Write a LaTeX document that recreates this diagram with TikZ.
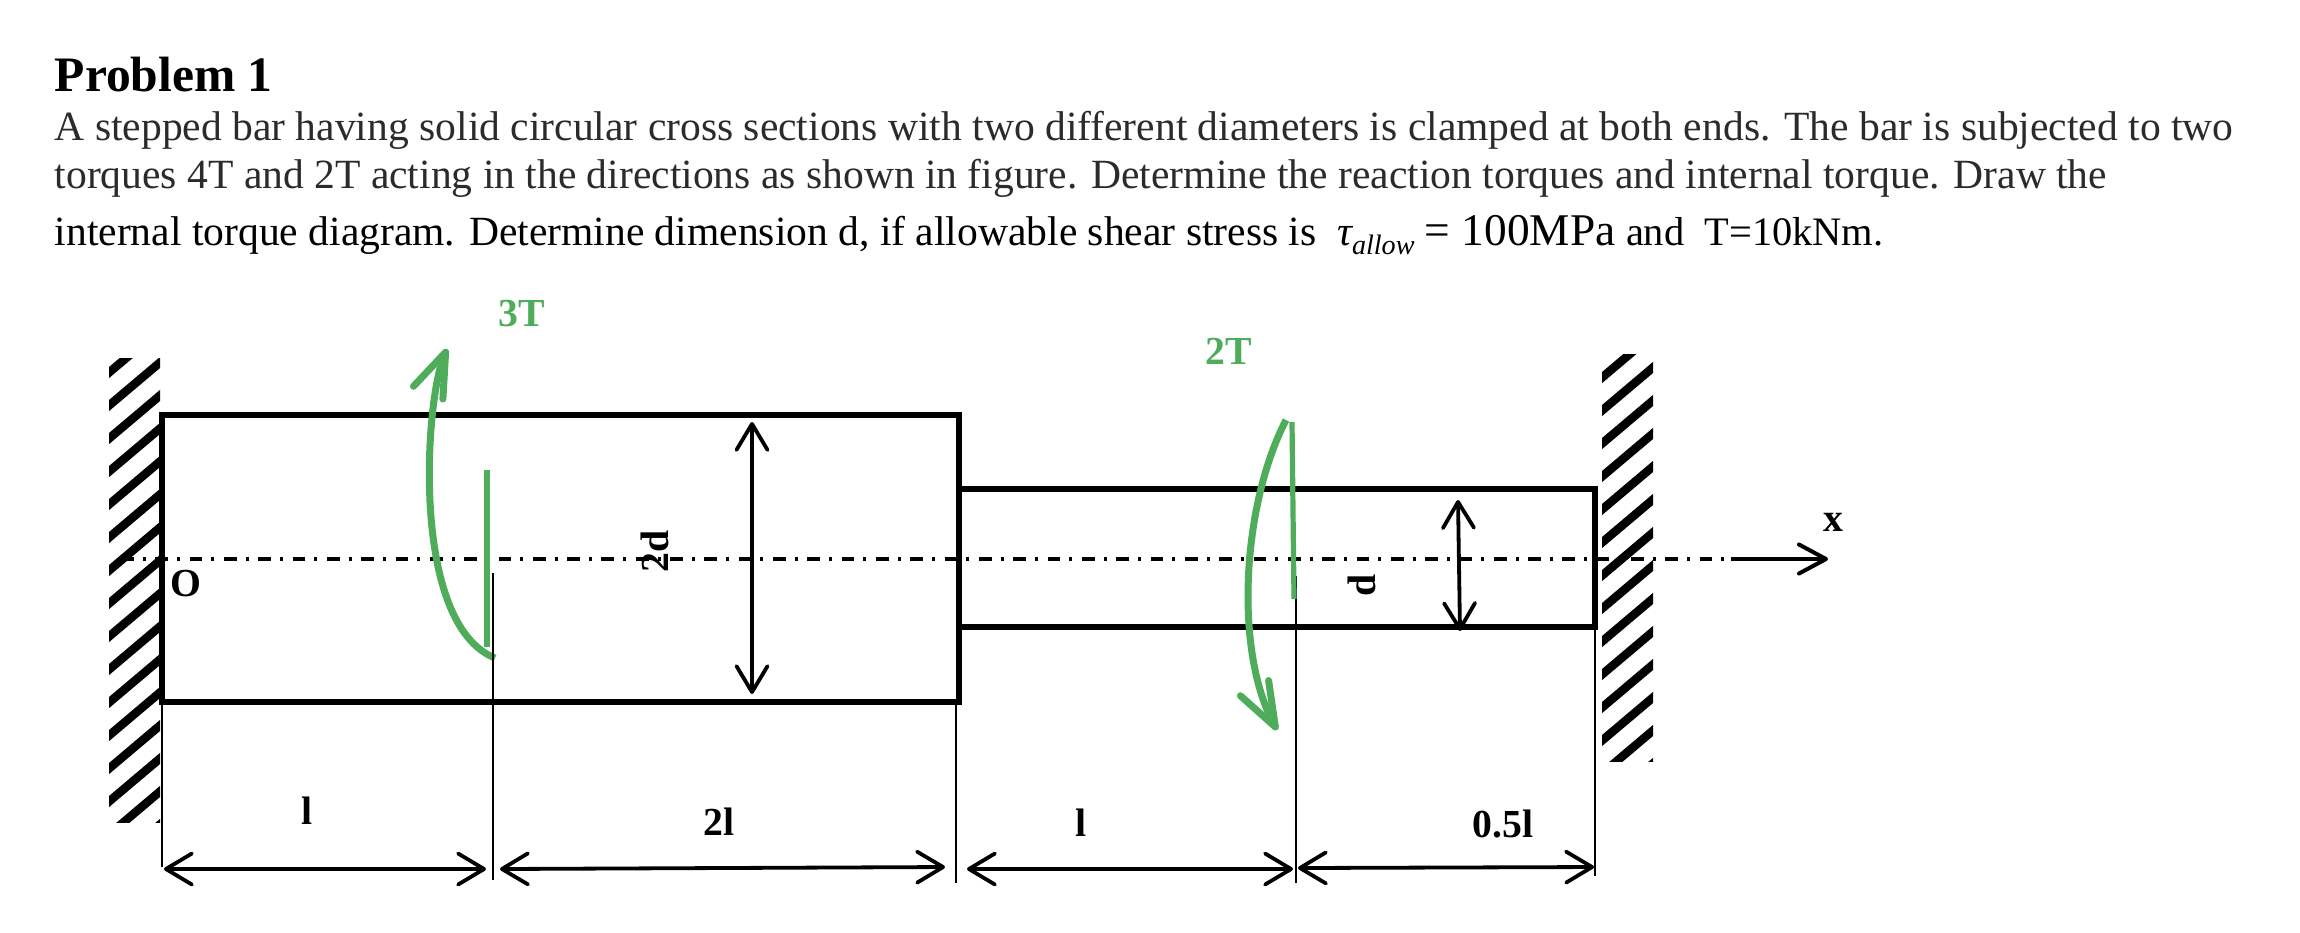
\documentclass[tikz,border=0pt]{standalone}
\usepackage{fontspec}
\setmainfont{Liberation Serif}
\usepackage{xcolor}
\usetikzlibrary{arrows.meta, positioning, calc}
\definecolor{torquegreen}{HTML}{4EAC5B}
\definecolor{bodygray}{HTML}{2B2B2B}

\begin{document}
\begin{tikzpicture}[
  x=0.01cm, y=-0.01cm,
  heading/.style={anchor=base west, inner sep=0pt, font=\fontsize{14.1pt}{16pt}\selectfont\bfseries},
  bodyline/.style={anchor=base west, inner sep=0pt, text=bodygray, font=\fontsize{11.82pt}{13pt}\selectfont},
  lab/.style={inner sep=0pt, font=\fontsize{11.3pt}{13pt}\selectfont\bfseries},
  greenlab/.style={lab, text=torquegreen},
  barline/.style={draw, line width=0.58mm, miter limit=10},
  thinline/.style={draw, line width=0.28mm},
  dimline/.style={draw, line width=0.38mm, {Straight Barb[round,length=2.6mm,width=3.1mm]}-{Straight Barb[round,length=2.6mm,width=3.1mm]}},
  torque/.style={draw=torquegreen, line width=0.7mm, -{Straight Barb[round,length=4.4mm,width=3.2mm]}},
  refline/.style={draw=torquegreen, line width=0.52mm},
  axisline/.style={draw, line width=0.32mm, dash pattern=on 1.27mm off 0.9mm on 0.3mm off 0.96mm},
]
\useasboundingbox (0,0) rectangle (2300,932);

% text
\node[heading] (title) at (54,91) {Problem 1};
\node[bodyline] (lineA) at (54,140) {A stepped bar having solid circular cross sections with two different diameters is clamped at both ends. The bar is subjected to two};
\node[bodyline] (lineB) at (54,188) {torques 4T and 2T acting in the directions as shown in figure. Determine the reaction torques and internal torque. Draw the};
\node[bodyline, text=black] (lineC) at (54,245) {internal torque diagram. Determine dimension d, if allowable shear stress is\ \ {\itshape τ\raisebox{-0.5ex}{\fontsize{8pt}{9pt}\selectfont allow}} {\fontsize{12.9pt}{14pt}\selectfont = 100MPa} {\fontsize{11.5pt}{13pt}\selectfont and\ \ T=10kNm.}};

% walls
\begin{scope}
\clip (109,358) rectangle (160,822);
\foreach \k in {0,...,15} {
  \draw[line width=0.85mm] (99,{381+33*\k}) -- (170,{321+33*\k});
}
\end{scope}
\begin{scope}
\clip (1602,354) rectangle (1653,761);
\foreach \k in {0,...,14} {
  \draw[line width=0.85mm] (1592,{386+33*\k}) -- (1663,{326+33*\k});
}
\end{scope}

% axis
\coordinate (axisA) at (121,559);
\coordinate (axisB) at (1724,559);
\coordinate (axisC) at (1731,559);
\coordinate (axisD) at (1828,559);
\draw[axisline] (axisA) -- (axisB);
\draw[line width=0.4mm, -{Straight Barb[round,length=2.7mm,width=2.9mm]}] (axisC) -- (axisD);
\node[lab] (xlab) at (1833,522) {x};

% bar
\coordinate (bigTL) at (162,415);
\coordinate (bigBR) at (959,702);
\coordinate (smallTL) at (959,489);
\coordinate (smallBR) at (1595,627);
\draw[barline] (bigTL) rectangle (bigBR);
\draw[barline] (smallTL) rectangle (smallBR);

% extension lines
\coordinate (extA) at (162,702);
\coordinate (extAb) at (162,867);
\coordinate (extB) at (493,573);
\coordinate (extBb) at (493,880);
\coordinate (extC) at (956,702);
\coordinate (extCb) at (956,883);
\coordinate (extD) at (1296,576);
\coordinate (extDb) at (1296,883);
\coordinate (extE) at (1595,629);
\coordinate (extEb) at (1595,876);
\draw[thinline] (extA) -- (extAb);
\draw[thinline] (extC) -- (extCb);
\draw[thinline] (extD) -- (extDb);
\draw[thinline] (extE) -- (extEb);

% torques
\coordinate (tqAs) at (495,658);
\coordinate (tqAe) at (447,349);
\coordinate (tqBs) at (1286,420);
\coordinate (tqBe) at (1277,730);
\coordinate (refAt) at (487,470);
\coordinate (refAb) at (487,647);
\coordinate (refBt) at (1292,422);
\coordinate (refBb) at (1294,599);
\draw[refline] (refAt) -- (refAb);
\draw[refline] (refBt) -- (refBb);
\draw[torque] (tqAs) .. controls (410,624) and (425,400) .. (tqAe);
\draw[torque] (tqBs) .. controls (1242,505) and (1234,650) .. (tqBe);
\draw[thinline] (extB) -- (extBb);

% dimensions
\coordinate (dimAl) at (164,869);
\coordinate (dimAr) at (486,869);
\coordinate (dimBl) at (500,869);
\coordinate (dimBr) at (945,867);
\coordinate (dimCl) at (967,869);
\coordinate (dimCr) at (1293,869);
\coordinate (dimDl) at (1298,868);
\coordinate (dimDr) at (1594,867);
\coordinate (hbigT) at (752,422);
\coordinate (hbigB) at (752,694);
\coordinate (hsmallT) at (1458,500);
\coordinate (hsmallB) at (1460,631);
\draw[dimline] (dimAl) -- (dimAr);
\draw[dimline] (dimBl) -- (dimBr);
\draw[dimline] (dimCl) -- (dimCr);
\draw[dimline] (dimDl) -- (dimDr);
\draw[dimline] (hbigT) -- (hbigB);
\draw[dimline] (hsmallT) -- (hsmallB);

% labels
\node[lab] (olab) at (186,584) {O};
\node[greenlab] (tqAlab) at (522,314) {3T};
\node[greenlab] (tqBlab) at (1229,351) {2T};
\node[lab, rotate=90] (hbiglab) at (655,551) {2d};
\node[lab, rotate=90] (hsmalllab) at (1362,585) {d};
\node[lab] (dimAlab) at (307,811) {l};
\node[lab] (dimBlab) at (719,822) {2l};
\node[lab] (dimClab) at (1081,823) {l};
\node[lab] (dimDlab) at (1503,824) {0.5l};
\end{tikzpicture}
\end{document}
